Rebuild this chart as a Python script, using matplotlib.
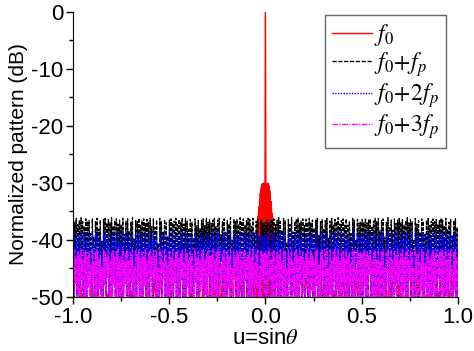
import numpy as np
import matplotlib
matplotlib.use("Agg")
import matplotlib.pyplot as plt
from matplotlib.ticker import MultipleLocator

plt.rcParams['font.family'] = ['Liberation Sans', 'DejaVu Sans']
plt.rcParams['mathtext.fontset'] = 'stix'
plt.rcParams['axes.unicode_minus'] = False

# f0 : far sidelobes (left / right of the main beam) and the near-in region around u=0
f0_left_db = [-45.5, -57.2, -44.8, -51.0, -46.6, -61.3, -45.4, -54.7, -47.1, -59.0, -44.2, -50.6, -46.9, -63.4, -45.7, -52.9, -47.2, -58.6, -44.8, -51.3,
              -46.1, -60.5, -48.4, -53.8, -45.0, -62.2, -47.0, -52.7, -44.5, -58.3, -46.6, -55.9, -45.9, -61.4, -48.0, -51.8, -44.9, -57.7, -47.3, -64.5,
              -45.6, -53.2, -46.8, -59.9, -44.4, -54.1, -47.8, -62.8, -45.2, -52.3, -46.3, -57.0, -44.0, -50.9, -47.5, -63.0, -45.8, -55.3, -43.6, -50.0]
f0_near_db = [-38.5, -52.0, -36.8, -47.0, -35.9, -55.0, -35.2, -46.0, -34.1, -58.0, -33.0, -44.0, -31.8, -52.0, -31.2, -49.0,
              -30.6, -57.0, -30.3, -45.0, -30.1, -53.0, -30.4, -47.0, -30.0, -60.0, -31.0, -44.0, -40.0, -12.0,
              0.0,
              -13.0, -42.0, -30.8, -46.0, -30.2, -58.0, -30.5, -48.0, -30.0, -54.0, -30.3, -45.0, -30.7, -56.0, -31.3,
              -50.0, -31.9, -53.0, -33.2, -45.0, -34.3, -59.0, -35.3, -47.0, -36.1, -54.0, -37.0, -48.0, -38.6, -51.0]
f0_right_db = [-45.1, -55.6, -47.7, -52.5, -44.6, -60.7, -46.4, -54.3, -48.2, -58.8, -45.5, -51.1, -43.9, -62.6, -47.1, -53.4, -46.0, -57.9, -44.3, -50.4,
               -47.9, -60.1, -45.3, -54.5, -46.7, -63.7, -44.1, -52.9, -48.3, -58.3, -45.8, -56.4, -47.4, -61.0, -44.7, -51.6, -46.2, -59.2, -43.7, -65.1,
               -47.6, -53.7, -45.0, -58.6, -46.9, -55.9, -44.6, -62.0, -48.0, -52.1, -45.4, -57.4, -46.5, -50.8, -44.8, -61.9, -47.2, -55.8, -45.9, -51.0]

# f0 + fp
f1_db = [-36.4, -51.2, -36.9, -43.5, -36.2, -60.3, -37.3, -46.8, -36.5, -55.1, -36.1, -41.9, -36.8, -64.0, -37.6, -48.2, -36.3, -57.4, -36.7, -44.6,
         -36.6, -45.7, -38.9, -58.2, -36.3, -41.0, -39.5, -52.6, -36.8, -47.2, -36.2, -63.0, -38.1, -43.9, -36.5, -49.3, -40.2, -56.8, -36.4, -44.5,
         -36.2, -53.8, -37.0, -40.7, -36.4, -62.5, -36.9, -47.3, -36.1, -50.9, -37.5, -43.1, -36.6, -58.8, -36.3, -45.5, -37.2, -67.1, -36.5, -49.6,
         -37.3, -61.9, -36.2, -48.1, -39.0, -42.8, -36.7, -55.0, -36.3, -46.4, -38.4, -66.0, -36.9, -43.2, -36.1, -51.7, -39.8, -45.6, -36.6, -59.2,
         -36.8, -42.4, -36.2, -56.3, -37.4, -46.1, -36.6, -61.7, -36.3, -44.0, -37.1, -52.5, -36.4, -48.9, -36.9, -59.6, -36.2, -41.6, -37.7, -54.7,
         -36.3, -42.0, -37.8, -53.5, -36.5, -47.8, -40.6, -60.7, -36.2, -44.2, -36.8, -50.8, -38.7, -41.4, -36.4, -57.6, -37.0, -46.2, -39.3, -64.8,
         -36.5, -63.3, -36.3, -45.2, -37.0, -50.4, -36.7, -43.8, -36.2, -66.2, -37.3, -47.7, -36.4, -55.9, -36.8, -42.9, -36.1, -58.1, -37.2, -49.0,
         -36.2, -49.8, -36.7, -43.6, -38.2, -55.7, -36.4, -45.1, -36.9, -62.3, -39.6, -47.5, -36.3, -42.5, -37.5, -52.9, -36.6, -58.9, -38.0, -44.7,
         -36.6, -44.3, -36.3, -60.8, -37.5, -46.5, -36.2, -52.0, -36.9, -41.3, -36.4, -57.2, -37.1, -48.4, -36.5, -63.9, -36.2, -45.9, -37.6, -53.3,
         -36.5, -66.5, -36.2, -46.7, -39.1, -41.2, -36.8, -54.6, -36.3, -49.1, -38.5, -60.2, -36.6, -43.3, -37.2, -47.0, -36.1, -56.4, -40.0, -45.3,
         -36.3, -42.2, -36.8, -59.0, -36.4, -47.0, -37.2, -54.4, -36.1, -44.9, -36.7, -65.5, -36.3, -49.9, -37.4, -43.4, -36.6, -56.6, -36.2, -51.5,
         -36.4, -52.1, -37.6, -42.9, -36.2, -61.0, -38.8, -48.7, -36.7, -44.0, -36.3, -57.1, -39.4, -46.0, -36.5, -63.6, -37.1, -41.8, -36.9, -50.5,
         -36.9, -46.3, -36.4, -61.2, -37.0, -42.7, -36.2, -53.6, -36.7, -48.6, -36.3, -58.5, -37.3, -44.1, -36.5, -62.9, -36.1, -47.4, -36.8, -50.2,
         -38.3, -45.4, -36.2, -59.7, -36.6, -47.6, -40.4, -53.0, -36.4, -42.3, -37.3, -65.1, -36.1, -48.3, -38.6, -44.8, -36.7, -55.4, -36.3, -49.5,
         -36.2, -55.5, -37.1, -43.0, -36.6, -59.9, -36.3, -46.0, -37.5, -51.8, -36.4, -41.5, -36.9, -64.6, -36.2, -49.3, -37.0, -45.6, -36.5, -57.7,
         -37.9, -62.6, -36.5, -43.5, -36.2, -51.3, -39.2, -46.9, -36.8, -58.0, -36.4, -41.7, -38.0, -54.2, -36.6, -47.3, -36.2, -64.4, -39.7, -45.0,
         -36.7, -48.0, -36.2, -54.0, -37.3, -42.6, -36.4, -62.1, -36.8, -45.0, -36.1, -56.0, -37.2, -47.9, -36.6, -60.0, -36.3, -43.7, -37.4, -52.8,
         -36.3, -48.6, -37.4, -56.1, -36.7, -43.1, -38.9, -60.5, -36.2, -46.5, -36.5, -52.4, -40.1, -42.0, -36.4, -59.4, -37.0, -47.1, -36.8, -66.3,
         -36.4, -66.8, -36.9, -44.4, -36.2, -50.6, -37.0, -57.9, -36.5, -41.8, -36.3, -53.1, -37.6, -46.6, -36.7, -59.3, -36.2, -48.5, -36.8, -63.4,
         -36.2, -44.3, -38.4, -50.1, -36.6, -57.3, -36.3, -45.8, -39.5, -62.0, -36.9, -43.8, -36.1, -49.0, -37.7, -55.2, -36.5, -41.6, -38.3, -58.6,
         -36.3, -45.3, -37.1, -51.0, -36.5, -42.1, -36.2, -58.4, -36.9, -47.1, -36.4, -55.3, -37.3, -44.8, -36.6, -61.5, -36.1, -49.7, -37.0, -43.3,
         -36.4, -53.9, -36.8, -46.1, -39.9, -64.1, -36.2, -42.7, -37.2, -48.8, -36.6, -60.9, -38.6, -44.6, -36.3, -51.9, -36.7, -57.5, -39.0, -43.0,
         -36.5, -56.9, -36.2, -46.9, -37.4, -52.2, -36.7, -64.2, -36.3, -45.8, -36.8, -50.0, -36.4, -59.5, -37.2, -42.3, -36.6, -54.9, -36.2, -47.6,
         -36.5, -47.9, -37.5, -61.4, -36.2, -45.2, -38.1, -53.3, -36.9, -42.1, -36.4, -58.3, -39.3, -49.2, -36.6, -44.1, -36.3, -63.7, -37.8, -50.3]

# f0 + 2fp
f2_db = [-39.2, -52.3, -38.6, -45.1, -40.4, -61.0, -38.9, -47.7, -39.7, -56.2, -38.4, -44.0, -40.9, -63.8, -39.1, -49.5, -38.7, -58.3, -40.2, -46.4,
         -39.1, -47.5, -41.3, -59.0, -38.6, -44.4, -40.7, -53.9, -38.9, -49.0, -38.5, -64.2, -40.2, -46.1, -39.4, -51.5, -41.8, -57.4, -38.7, -45.5,
         -38.8, -54.6, -39.9, -43.7, -38.5, -60.1, -41.2, -48.3, -39.3, -51.4, -38.6, -45.9, -40.1, -66.0, -39.0, -47.2, -38.4, -57.0, -40.6, -50.8,
         -39.8, -62.1, -38.4, -49.7, -40.9, -44.9, -39.0, -56.2, -38.6, -47.9, -40.4, -65.7, -39.3, -45.0, -38.5, -52.8, -41.5, -47.3, -38.8, -60.0,
         -39.5, -44.6, -38.7, -55.8, -40.3, -48.8, -38.9, -62.4, -39.6, -46.1, -38.5, -53.5, -41.0, -49.1, -39.2, -59.1, -38.8, -44.3, -40.0, -55.0,
         -38.7, -44.7, -40.0, -54.6, -38.9, -49.3, -42.0, -61.5, -38.5, -46.0, -39.2, -52.0, -40.8, -43.8, -38.6, -58.5, -39.6, -47.8, -41.2, -63.3,
         -38.6, -64.7, -39.8, -47.0, -38.4, -51.9, -40.7, -45.4, -39.1, -62.9, -38.7, -49.8, -40.2, -56.8, -39.4, -45.0, -38.5, -58.6, -41.1, -50.3,
         -38.4, -51.0, -39.1, -45.6, -40.5, -56.9, -38.8, -46.8, -39.4, -62.8, -41.6, -49.0, -38.6, -44.6, -39.9, -54.0, -38.9, -59.6, -40.3, -46.5,
         -39.0, -46.6, -38.6, -61.6, -40.5, -48.1, -39.3, -53.2, -38.8, -44.8, -40.0, -57.6, -39.5, -49.2, -38.4, -65.2, -40.8, -47.5, -39.1, -54.1,
         -38.8, -65.9, -38.5, -48.2, -41.1, -43.9, -39.3, -55.8, -38.7, -50.4, -40.6, -61.1, -38.9, -45.1, -39.7, -48.6, -38.4, -57.2, -41.9, -47.0,
         -38.7, -44.2, -40.3, -59.7, -38.9, -48.6, -39.6, -55.4, -38.5, -46.3, -41.3, -63.0, -39.0, -51.1, -38.6, -45.3, -40.1, -57.3, -39.4, -52.6,
         -38.6, -53.4, -40.0, -44.8, -38.5, -61.8, -40.9, -50.0, -39.0, -45.9, -38.7, -58.1, -41.4, -47.7, -38.9, -63.9, -39.5, -44.1, -39.2, -51.9,
         -38.8, -47.8, -39.7, -62.2, -38.5, -44.5, -40.6, -54.3, -39.2, -49.4, -38.7, -58.9, -40.4, -46.0, -38.9, -64.3, -39.5, -48.7, -38.4, -51.6,
         -40.7, -47.2, -38.5, -60.8, -38.9, -49.5, -42.0, -54.5, -38.7, -44.5, -39.8, -64.6, -38.4, -50.1, -40.9, -46.6, -39.0, -56.6, -38.6, -51.2,
         -40.0, -56.5, -38.6, -45.7, -39.8, -60.6, -38.9, -47.4, -41.0, -52.7, -39.3, -44.1, -38.5, -65.8, -40.2, -50.5, -38.8, -46.8, -39.6, -58.0,
         -40.2, -63.0, -38.8, -45.3, -38.5, -52.6, -41.3, -48.5, -39.1, -59.3, -38.7, -44.0, -40.4, -55.5, -38.9, -49.1, -38.5, -65.0, -41.8, -46.9,
         -38.7, -49.0, -40.5, -55.6, -39.0, -44.9, -38.6, -62.7, -39.9, -46.9, -38.4, -57.8, -40.7, -48.2, -39.2, -61.3, -38.9, -45.6, -40.3, -53.9,
         -38.6, -50.2, -39.7, -57.7, -39.0, -45.7, -41.0, -61.6, -38.5, -48.3, -38.8, -53.8, -42.0, -44.3, -38.7, -60.3, -39.3, -48.9, -39.1, -66.6,
         -39.4, -66.4, -38.5, -46.2, -40.1, -51.2, -38.8, -58.7, -39.7, -44.7, -38.6, -54.8, -41.2, -48.0, -39.1, -60.4, -38.7, -49.6, -40.4, -63.6,
         -38.5, -46.4, -40.6, -51.6, -38.9, -58.2, -38.6, -47.6, -41.7, -62.5, -39.2, -45.4, -38.4, -50.6, -40.0, -56.3, -38.8, -44.2, -40.5, -59.8,
         -38.9, -47.1, -39.6, -52.4, -38.5, -45.8, -40.8, -59.4, -39.3, -48.9, -38.6, -56.4, -40.0, -46.7, -39.0, -62.0, -38.4, -50.7, -40.5, -45.2,
         -38.7, -55.1, -39.1, -48.0, -41.9, -64.0, -38.5, -44.6, -39.5, -50.3, -38.9, -61.9, -40.8, -46.3, -38.6, -53.1, -39.0, -58.8, -41.2, -45.7,
         -39.2, -57.5, -38.7, -48.4, -40.6, -53.0, -39.4, -64.9, -38.5, -47.3, -39.8, -51.3, -38.8, -60.2, -40.9, -44.4, -39.1, -55.7, -38.6, -49.3,
         -38.8, -49.4, -39.8, -62.7, -38.5, -47.1, -40.3, -54.8, -39.2, -44.8, -38.7, -59.5, -41.5, -51.0, -38.9, -46.0, -38.6, -64.5, -40.1, -52.2]

# f0 + 3fp
f3_db = [-42.3, -53.0, -41.8, -47.6, -43.2, -60.5, -42.0, -49.8, -42.7, -57.1, -41.6, -46.9, -43.6, -63.2, -42.2, -51.0, -41.9, -58.8, -43.0, -48.4,
         -42.2, -50.0, -44.3, -59.4, -41.7, -47.4, -43.8, -55.0, -42.0, -51.6, -41.6, -63.7, -43.3, -48.5, -42.5, -53.2, -44.8, -58.0, -41.8, -48.0,
         -42.1, -55.2, -42.9, -46.5, -41.7, -61.9, -43.8, -50.1, -42.4, -52.6, -41.9, -47.9, -43.1, -65.6, -42.0, -49.4, -41.6, -57.7, -43.4, -51.7,
         -42.9, -61.5, -41.6, -51.8, -43.9, -47.7, -42.1, -56.6, -41.7, -50.3, -43.5, -65.4, -42.4, -47.5, -41.6, -54.0, -44.6, -49.9, -41.9, -60.2,
         -42.6, -47.1, -41.8, -56.9, -43.3, -50.6, -42.1, -62.6, -42.8, -48.0, -41.7, -54.5, -43.7, -50.9, -42.3, -59.8, -41.9, -46.8, -43.0, -55.9,
         -41.8, -47.2, -43.1, -55.6, -42.0, -51.5, -45.0, -62.0, -41.6, -48.6, -42.3, -53.7, -43.9, -46.8, -41.7, -58.9, -42.7, -50.2, -44.3, -63.0,
         -41.8, -64.4, -42.9, -48.9, -41.6, -53.4, -43.5, -47.4, -42.2, -61.4, -41.9, -51.4, -43.2, -57.5, -42.5, -47.0, -41.7, -59.2, -43.9, -52.1,
         -41.6, -52.5, -42.2, -48.2, -43.6, -57.8, -41.9, -49.4, -42.5, -62.4, -44.7, -51.1, -41.7, -47.6, -43.0, -55.1, -42.0, -59.9, -43.4, -49.0,
         -42.0, -48.5, -41.8, -62.3, -43.4, -49.7, -42.4, -54.2, -41.9, -46.6, -43.0, -58.2, -42.6, -50.4, -41.6, -64.8, -43.6, -49.0, -42.2, -55.6,
         -41.9, -65.6, -41.6, -50.7, -44.2, -46.9, -42.4, -56.4, -41.8, -52.1, -43.7, -61.3, -42.0, -47.9, -42.8, -51.0, -41.6, -57.9, -45.0, -49.5,
         -41.9, -46.4, -43.3, -60.9, -42.0, -50.2, -42.7, -56.1, -41.7, -48.1, -43.8, -63.5, -42.1, -52.3, -41.8, -47.2, -43.1, -58.0, -42.5, -53.7,
         -41.7, -54.7, -43.1, -47.8, -41.6, -62.1, -44.0, -51.9, -42.1, -48.4, -41.8, -58.7, -44.5, -50.1, -42.0, -64.1, -42.6, -47.0, -42.3, -53.5,
         -42.0, -49.6, -42.8, -61.8, -41.6, -46.7, -43.5, -55.3, -42.3, -51.2, -41.9, -59.6, -43.4, -48.3, -42.0, -65.0, -42.6, -50.0, -41.7, -53.1,
         -43.8, -49.6, -41.6, -60.6, -42.0, -51.4, -45.0, -55.9, -41.8, -47.3, -42.9, -64.9, -41.6, -52.4, -44.0, -49.1, -42.1, -57.3, -41.7, -52.8,
         -43.0, -57.3, -41.8, -47.8, -42.9, -61.1, -42.1, -49.2, -43.7, -54.0, -42.4, -46.3, -41.6, -66.1, -43.2, -51.9, -41.9, -48.8, -42.7, -58.6,
         -43.3, -62.9, -41.9, -48.1, -41.6, -54.2, -44.4, -50.8, -42.2, -59.6, -41.8, -46.9, -43.5, -56.7, -42.0, -51.7, -41.6, -65.2, -44.9, -49.3,
         -41.8, -50.8, -43.5, -56.7, -42.1, -47.5, -41.7, -62.8, -43.0, -48.6, -41.6, -58.4, -43.6, -50.3, -42.3, -61.7, -42.0, -47.7, -43.3, -54.6,
         -41.7, -52.3, -42.8, -58.3, -42.1, -48.0, -44.1, -61.9, -41.6, -50.5, -41.9, -55.4, -45.0, -47.1, -41.8, -60.8, -42.4, -51.2, -42.2, -66.4,
         -42.5, -65.3, -41.7, -48.2, -43.1, -52.8, -41.9, -59.0, -42.8, -46.2, -41.8, -55.8, -43.9, -49.9, -42.2, -60.7, -41.8, -51.3, -43.4, -63.1,
         -41.6, -48.9, -43.7, -53.6, -42.0, -58.6, -41.7, -49.8, -44.8, -62.7, -42.3, -47.7, -41.6, -52.7, -43.1, -57.1, -41.9, -47.4, -43.6, -60.0,
         -42.0, -49.1, -42.7, -53.8, -41.6, -47.3, -43.6, -59.7, -42.4, -50.7, -41.7, -57.0, -43.0, -48.7, -42.1, -62.4, -41.6, -52.0, -43.5, -47.1,
         -41.8, -56.2, -42.2, -50.4, -45.0, -64.3, -41.6, -47.0, -42.6, -52.0, -42.0, -62.2, -43.9, -48.8, -41.7, -54.9, -42.1, -59.2, -44.3, -48.2,
         -42.3, -58.1, -41.8, -50.5, -43.6, -54.3, -42.5, -64.1, -41.7, -49.5, -42.9, -52.9, -41.9, -60.3, -43.8, -46.6, -42.2, -56.3, -41.7, -51.1,
         -41.9, -51.3, -42.9, -62.6, -41.6, -49.7, -43.4, -56.0, -42.3, -47.6, -41.8, -60.1, -44.6, -52.6, -42.0, -48.7, -41.7, -64.6, -43.2, -53.9]

labels = [r'$f_0$', r'$f_0\!+\!f_p$', r'$f_0\!+\!2f_p$', r'$f_0\!+\!3f_p$']

# u axis for each series
u0 = np.concatenate([np.linspace(-1, -0.046, len(f0_left_db)),
                     np.linspace(-0.045, 0.045, len(f0_near_db)),
                     np.linspace(0.046, 1, len(f0_right_db))])
f0_db = f0_left_db + f0_near_db + f0_right_db
u1 = np.linspace(-1, 1, len(f1_db))
u2 = np.linspace(-1, 1, len(f2_db))
u3 = np.linspace(-1, 1, len(f3_db))

fig = plt.figure(figsize=(4.74, 3.51), dpi=100)
ax = fig.add_axes([0.154, 0.154, 0.812, 0.812])

lw = 0.9
ax.plot(u0, f0_db, color='red', lw=lw, ls='-', label=labels[0])
ax.plot(u1, f1_db, color='black', lw=lw, ls=(0, (3, 1.2)), label=labels[1])
ax.plot(u2, f2_db, color='blue', lw=lw, ls=(0, (1, 1)), label=labels[2])
ax.plot(u3, f3_db, color='magenta', lw=lw, ls=(0, (4, 1, 1, 1)), label=labels[3])

ax.set_xlim(-1, 1)
ax.set_ylim(-50, 0)
ax.xaxis.set_major_locator(MultipleLocator(0.5))
ax.xaxis.set_minor_locator(MultipleLocator(0.25))
ax.yaxis.set_major_locator(MultipleLocator(10))
ax.yaxis.set_minor_locator(MultipleLocator(5))
ax.xaxis.set_major_formatter(plt.FuncFormatter(lambda v, p: f'{v:.1f}'))
ax.tick_params(which='major', direction='out', length=5, width=1, labelsize=16, pad=2)
ax.tick_params(which='minor', direction='out', length=3, width=1)
ax.spines['top'].set_visible(False)
ax.spines['right'].set_visible(False)

ax.set_xlabel(r'u=sin$\theta$', fontsize=16, labelpad=0)
ax.set_ylabel('Normalized pattern (dB)', fontsize=15, labelpad=2)

leg = ax.legend(loc='upper right', bbox_to_anchor=(0.97, 0.99), borderaxespad=0,
                fontsize=17, handlelength=1.7, handletextpad=0.1, labelspacing=0.1,
                fancybox=False, framealpha=1, edgecolor='#666666', borderpad=0.3)
leg.get_frame().set_linewidth(1.0)
for line in leg.get_lines():
    line.set_linewidth(1.0)

fig.savefig('out.png', dpi=100)
